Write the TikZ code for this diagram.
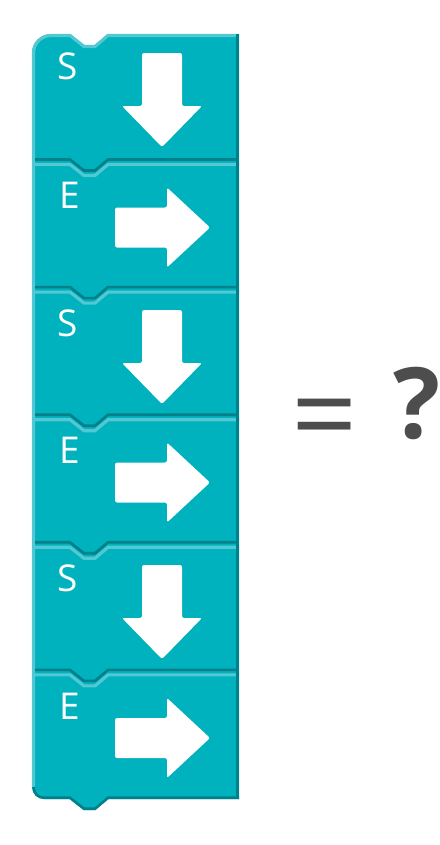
\documentclass[tikz,border=0pt]{standalone}
\usepackage{fontspec}
\setmainfont{Open Sans}
\definecolor{tealfill}{HTML}{00B1BE}
\definecolor{teallight}{HTML}{52C8D2}
\definecolor{tealdark}{HTML}{00808A}
\definecolor{signgray}{HTML}{4D4D4D}
\begin{document}
\begin{tikzpicture}[x=0.01cm, y=-0.01cm,
			every node/.style = {inner sep=0pt, text=white, font=\fontsize{10.5}{11}\selectfont},
			highlight/.style = {draw=teallight, line width=0.9pt},
			shade/.style = {draw=tealdark, line width=0.75pt},
			arrowshape/.style = {fill=white, rounded corners=0.6pt},
			sign/.style = {text=signgray, anchor=base},
			southblock/.pic = {
				\node (-lbl) at (68,32) {#1};
				\fill[arrowshape] (142,19) -- (182,19) -- (182,72) -- (202,72) -- (162,113) -- (122,72) -- (142,72) -- cycle;
			},
			eastblock/.pic = {
				\node (-lbl) at (70,32) {#1};
				\fill[arrowshape] (115,44) -- (167,44) -- (167,24) -- (210,64) -- (167,104) -- (167,84) -- (115,84) -- cycle;
			}]
			
			\useasboundingbox (0,0) rectangle (439,845);
			
			% the stack of blocks
			\fill[tealfill] (32,53) .. controls (32,42.5) and (40.5,34) .. (51,34) -- (70,34) -- (84,45) -- (95,45) -- (108,34)
				-- (239,34) -- (239,799) -- (108,799) -- (95,810) -- (84,810) -- (70,799)
				-- (44,799) .. controls (37.4,799) and (32,793.6) .. (32,787) -- cycle;
			\draw[highlight] (33.5,787) -- (33.5,53) .. controls (33.5,43.5) and (41.5,35.5) .. (51,35.5) -- (70,35.5) -- (84,46.5)
				-- (95,46.5) -- (108,35.5) -- (238,35.5);
			\foreach \y in {159.5,287.1,414.7,542.3,669.9} {
				\draw[shade] (35,\y) -- (70,\y) -- (84,\y+11) -- (95,\y+11) -- (108,\y) -- (237,\y);
				\draw[highlight] (32,\y+5) -- (70,\y+5) -- (84,\y+16) -- (95,\y+16) -- (108,\y+5) -- (239,\y+5);
			}
			\draw[shade] (237.8,34) -- (237.8,799);
			\draw[shade] (33.5,787) .. controls (33.5,793) and (38,797.8) .. (44,797.8) -- (70,797.8) -- (84,808.8) -- (95,808.8)
				-- (108,797.8) -- (239,797.8);
			
			\pic (b1) at (0,34) {southblock=S};
			\pic (b2) at (0,163.5) {eastblock=E};
			\pic (b3) at (0,291) {southblock=S};
			\pic (b4) at (0,418.5) {eastblock=E};
			\pic (b5) at (0,546) {southblock=S};
			\pic (b6) at (0,674) {eastblock=E};
			
			\node[sign, font=\fontsize{33}{35}\selectfont] (eq) at (324.5,455) {=};
			\node[sign, font=\fontsize{28}{30}\selectfont\bfseries] (qm) at (416.5,438) {?};
			\end{tikzpicture}
\end{document}
